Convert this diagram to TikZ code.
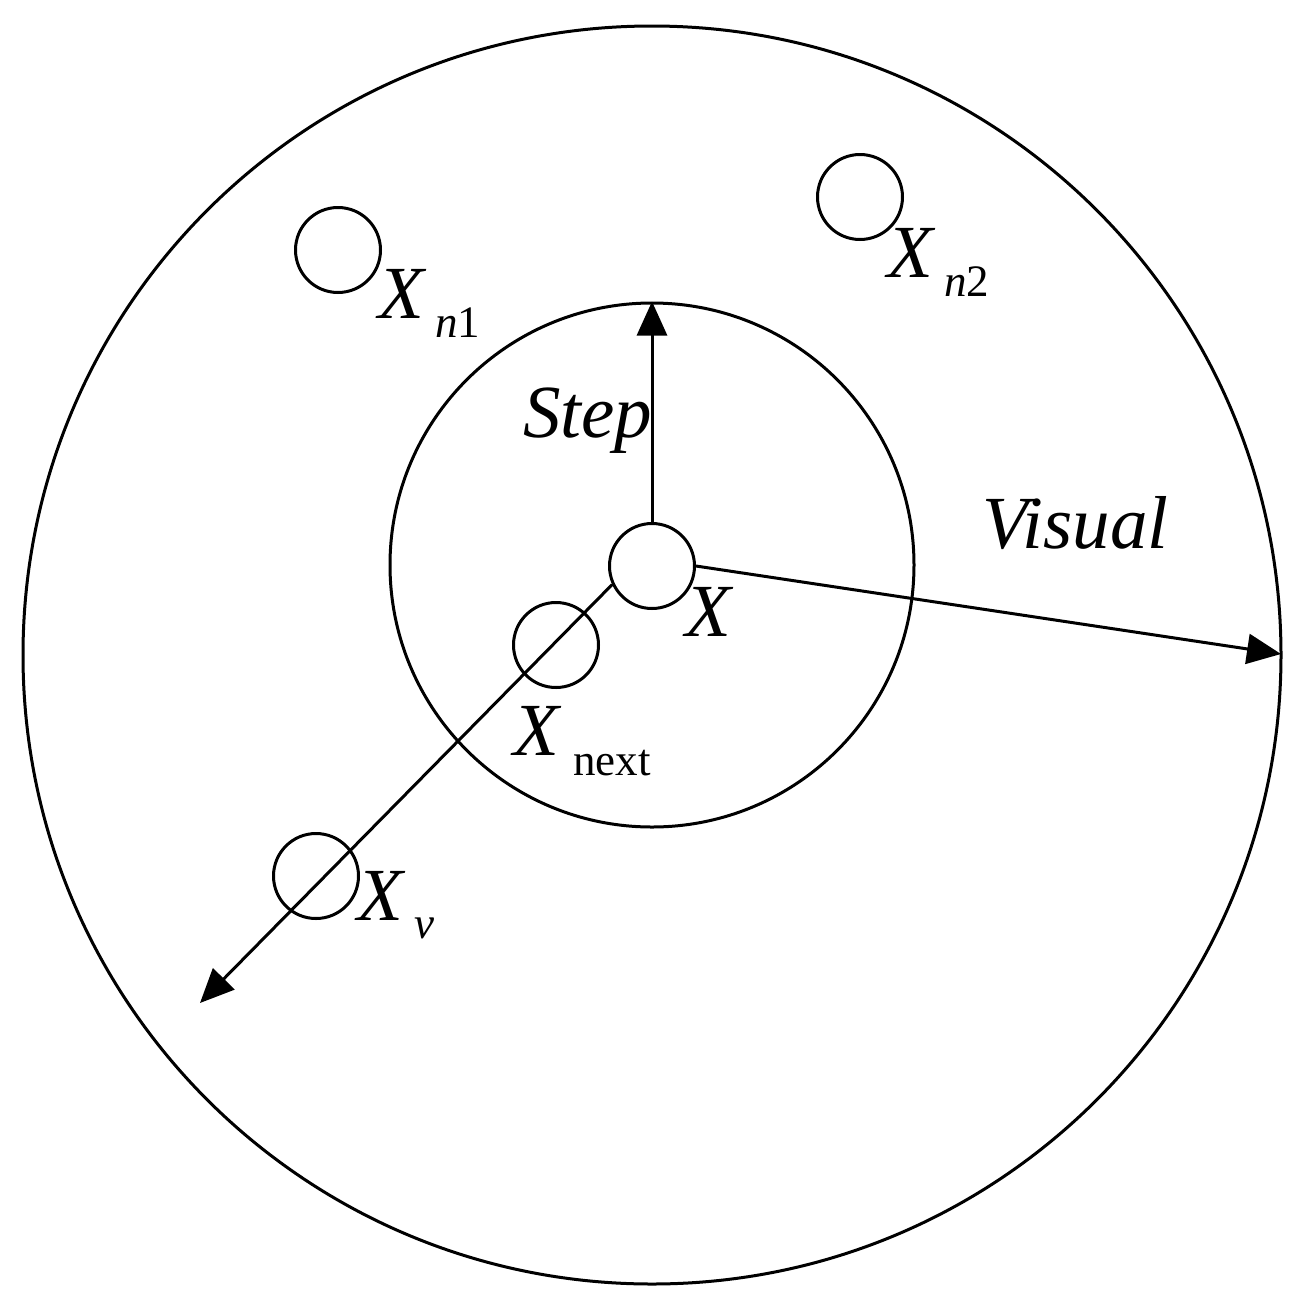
\documentclass[tikz,border=0pt]{standalone}
\usepackage{fontspec}
\setmainfont{Liberation Serif}
\usetikzlibrary{arrows.meta}
\newcommand{\bigtxt}{\fontsize{75}{75}\selectfont}
\newcommand{\smltxt}{\fontsize{45}{45}\selectfont}
\begin{document}
\begin{tikzpicture}[x=1pt,y=-1pt,
  ring/.style={draw,line width=3pt,circle,inner sep=0pt,minimum size=#1},
  pt/.style={ring=85pt},
  conn/.style={line width=3pt,-{Triangle[length=34pt,width=30pt]}},
  txt/.style={inner sep=0pt,anchor=base west}]
\useasboundingbox (0,0) rectangle (1304,1310);
\node[ring=1258pt] (outer) at (652,655) {};
\node[ring=524pt] (inner) at (652,565) {};
\node[pt] (X) at (652,566) {};
\node[pt] (Xnext) at (556,645) {};
\node[pt] (Xv) at (316,876) {};
\node[pt] (Xn1) at (338,250) {};
\node[pt] (Xn2) at (860,197) {};
\coordinate (steptip) at (inner.north);
\coordinate (vistip) at (1281,654);
\coordinate (dtip) at (200,1003);
\draw[conn] (X.north) -- (steptip);
\draw[conn] (X.east) -- (vistip);
\draw[conn] (X.205) -- (dtip);
\node[txt] (tstep) at (523,437) {\bigtxt\textit{Step}};
\node[txt] (tvis) at (982,548) {\bigtxt\textit{Visual}};
\node[txt] (tX) at (685,636) {\bigtxt\textit{X}};
\node[txt] (tn1) at (378,318) {\bigtxt\textit{X}\hspace{9pt}\raisebox{-19pt}{\smltxt\textit{n}1}};
\node[txt] (tn2) at (887,277) {\bigtxt\textit{X}\hspace{9pt}\raisebox{-19pt}{\smltxt\textit{n}2}};
\node[txt] (tnext) at (513,755) {\bigtxt\textit{X}\hspace{12pt}\raisebox{-20pt}{\smltxt next}};
\node[txt] (tv) at (357,920) {\bigtxt\textit{X}\hspace{9pt}\raisebox{-18pt}{\smltxt\textit{v}}};
\end{tikzpicture}
\end{document}
